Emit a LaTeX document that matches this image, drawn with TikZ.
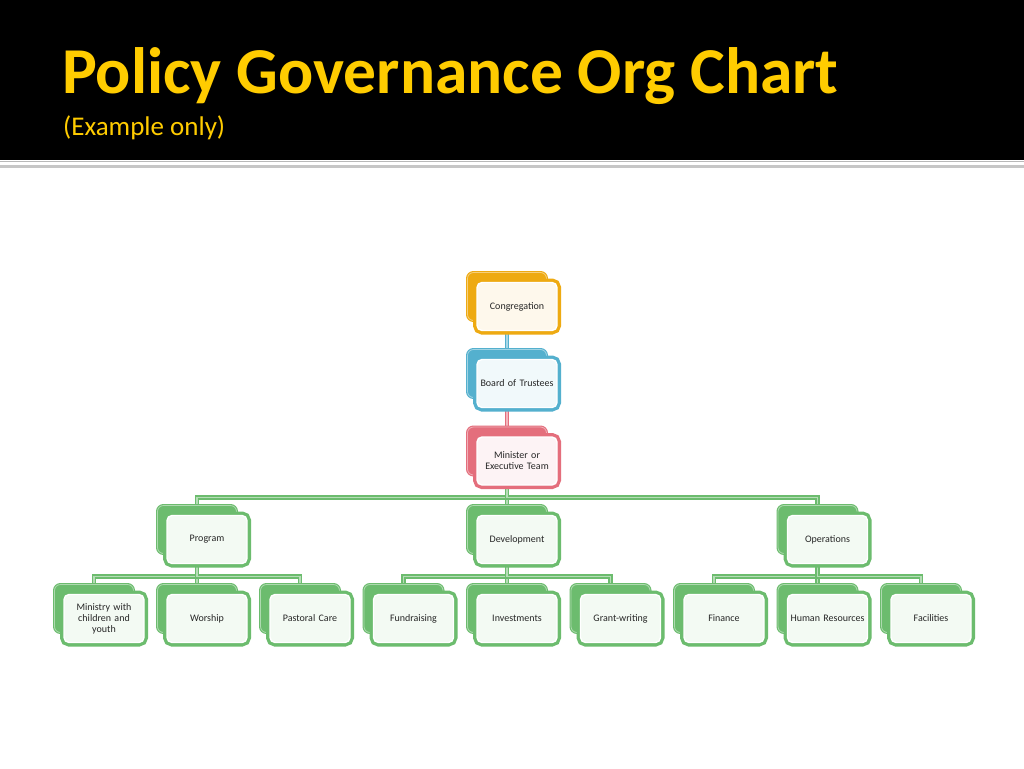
\documentclass[tikz,border=0pt]{standalone}
\usepackage{fontspec}
\setmainfont{Carlito}
\usetikzlibrary{calc}
\pgfdeclarelayer{bg}
\pgfsetlayers{bg,main}
\definecolor{cGold}{RGB}{255,204,0}
\definecolor{cOr}{RGB}{238,170,18}
\definecolor{cBl}{RGB}{84,176,206}
\definecolor{cPk}{RGB}{228,110,124}
\definecolor{cGr}{RGB}{108,188,110}
\tikzset{
  front/.style={rounded corners=5pt, minimum width=80pt, minimum height=48pt,
    inner sep=1pt, text width=74pt, align=center,
    font=\fontsize{10}{11}\selectfont, text=black!85,
    line width=1.4pt, draw=white, fill=#1!8!white,
    preaction={draw=#1, line width=8pt}},
  back/.style={rounded corners=6pt, minimum width=79pt, minimum height=48pt,
    fill=#1, draw=#1!55!white, line width=0.8pt,
    preaction={draw=#1, line width=3pt}},
  conn/.style={line width=1.8pt, draw=#1, double=#1!50!white, double distance=1.1pt},
  titlefont/.style={anchor=base west, text=cGold, inner sep=0pt},
}
\newcommand\orgbox[5]{%
  \node[back=#2] (#1B) at (#3-10,#4-10) {};
  \node[front=#2] (#1) at (#3,#4) {#5};}
\begin{document}
\begin{tikzpicture}[x=1pt,y=-1pt]
\useasboundingbox (0,0) rectangle (1024,768);
\begin{pgfonlayer}{bg}
\fill[white] (0,0) rectangle (1024,768);
\end{pgfonlayer}
% header
\fill[black] (0,0) rectangle (1024,160);
\fill[gray!55] (0,160.5) rectangle (1024,162);
\fill[gray!45] (0,164.5) rectangle (1024,168);
\node[titlefont, font=\fontsize{65.5}{70}\selectfont\bfseries] (title) at (62,93) {Policy Governance Org Chart};
\node[titlefont, font=\fontsize{27}{30}\selectfont] (sub) at (63,135) {(Example only)};
% boxes
\orgbox{cong}{cOr}{517}{306.5}{Congregation}
\orgbox{board}{cBl}{517}{383.5}{Board of Trustees}
\orgbox{min}{cPk}{517}{461}{Minister or\\Executive Team}
\orgbox{prog}{cGr}{207}{539.5}{Program}
\orgbox{dev}{cGr}{517}{539.5}{Development}
\orgbox{ops}{cGr}{827.5}{539.5}{Operations}
\orgbox{minis}{cGr}{104}{618.5}{Ministry with\\children and\\youth}
\orgbox{wor}{cGr}{207}{618.5}{Worship}
\orgbox{past}{cGr}{310}{618.5}{Pastoral Care}
\orgbox{fund}{cGr}{413.5}{618.5}{Fundraising}
\orgbox{inv}{cGr}{517}{618.5}{Investments}
\orgbox{grant}{cGr}{620.5}{618.5}{Grant-writing}
\orgbox{fin}{cGr}{724}{618.5}{Finance}
\orgbox{hr}{cGr}{827.5}{618.5}{Human Resources}
\orgbox{fac}{cGr}{931}{618.5}{Facilities}
% connectors
\begin{pgfonlayer}{bg}
\draw[conn=cBl] (congB |- cong.south) -- (boardB.north);
\draw[conn=cPk] (boardB |- board.south) -- (minB.north);
\foreach \c in {prog,dev,ops}
  \draw[conn=cGr] (minB |- min.south) -- ++(0,12) -| (\c B.north);
\foreach \c in {minis,wor,past}
  \draw[conn=cGr] (progB |- prog.south) -- ++(0,12) -| (\c B.north);
\foreach \c in {fund,inv,grant}
  \draw[conn=cGr] (devB |- dev.south) -- ++(0,12) -| (\c B.north);
\foreach \c in {fin,hr,fac}
  \draw[conn=cGr] (opsB |- ops.south) -- ++(0,12) -| (\c B.north);
\end{pgfonlayer}
\end{tikzpicture}
\end{document}
